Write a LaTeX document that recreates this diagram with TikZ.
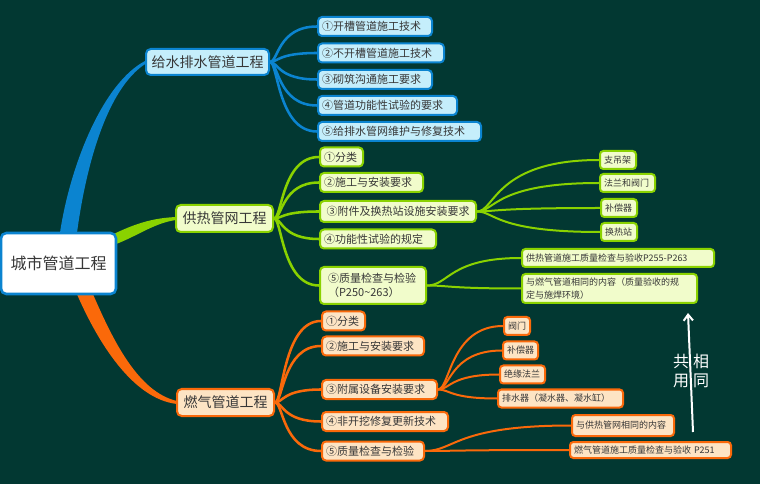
\documentclass[tikz,border=0pt]{standalone}
\usepackage{fontspec}
\setmainfont{Noto Sans CJK SC}
\usepackage{xcolor}
\usepackage{tikz}
\usetikzlibrary{arrows.meta, calc}
\definecolor{bgc}{RGB}{2,56,50}
\definecolor{txt}{RGB}{55,55,55}
\definecolor{bcol}{RGB}{11,132,208}
\definecolor{bfill}{RGB}{197,238,251}
\definecolor{gcol}{RGB}{138,210,0}
\definecolor{gfill}{RGB}{241,252,203}
\definecolor{ocol}{RGB}{250,105,10}
\definecolor{ofill}{RGB}{253,228,196}
\pgfdeclarelayer{back}
\pgfdeclarelayer{wire}
\pgfsetlayers{back,wire,main}
\tikzset{
  root/.style={rectangle, draw=bcol, fill=white, line width=1.9pt, rounded corners=4pt,
               minimum width=86.25pt, minimum height=45.75pt, inner sep=0pt, text=txt,
               font=\fontsize{12}{14}\selectfont},
  hb/.style={rectangle, line width=1.5pt, rounded corners=3.5pt, inner sep=0pt,
             minimum width=72.75pt, minimum height=20.25pt, text=txt,
             font=\fontsize{10.5}{12}\selectfont},
  sb/.style={rectangle, anchor=west, line width=1.5pt, rounded corners=3pt, inner xsep=3pt,
             inner ysep=0pt, minimum height=14.25pt, align=left, text=txt,
             font=\fontsize{8.25}{10.5}\selectfont},
  tb/.style={sb, minimum height=13.5pt, rounded corners=2.5pt,
             font=\fontsize{6.75}{9.5}\selectfont},
  bbox/.style={draw=bcol, fill=bfill},
  gbox/.style={draw=gcol, fill=gfill},
  obox/.style={draw=ocol, fill=ofill},
  limb/.style={to path={.. controls ($(\tikztostart)+(#1,0)$)
               and ($(\tikztotarget -| \tikztostart)+(#1,0)$) .. (\tikztotarget)}},
  bwire/.style={draw=bcol, line width=1.9pt},
  gwire/.style={draw=gcol, line width=1.9pt},
  owire/.style={draw=ocol, line width=1.9pt},
  note/.style={text=white, align=center, inner sep=0pt, font=\fontsize{12}{14.25}\selectfont}
}

\begin{document}
\begin{tikzpicture}[x=0.75pt, y=-0.75pt]
  \useasboundingbox (0,0) rectangle (760,484);
  \begin{pgfonlayer}{back}
    \fill[bgc] (0,0) rectangle (760,484);
  \end{pgfonlayer}

  \node[root] (city) at (58.5,263.5) {城市管道工程};
  \node[hb, bbox, minimum width=92.25pt, minimum height=19.5pt] (gs) at (207.5,62) {给水排水管道工程};
  \node[hb, gbox] (gr) at (224.5,218.5) {供热管网工程};
  \node[hb, obox] (rq) at (225.5,402.5) {燃气管道工程};

  % 给水排水
  \node[sb, bbox, text width=79.5pt] (gs1) at (317,26.5) {①开槽管道施工技术};
  \node[sb, bbox, text width=88.5pt] (gs2) at (317,53) {②不开槽管道施工技术};
  \node[sb, bbox, text width=79.5pt] (gs3) at (317,79.5) {③砌筑沟通施工要求};
  \node[sb, bbox, text width=98.25pt] (gs4) at (317,105.5) {④管道功能性试验的要求};
  \node[sb, bbox, text width=116.25pt] (gs5) at (317,131.5) {⑤给排水管网维护与修复技术};

  % 供热
  \node[sb, gbox, text width=26.25pt] (gr1) at (319,157) {①分类};
  \node[sb, gbox, text width=71.25pt] (gr2) at (319,182.5) {②施工与安装要求};
  \node[sb, gbox, text width=111pt, align=center, minimum height=15.75pt] (gr3) at (319,211.5) {③附件及换热站设施安装要求};
  \node[sb, gbox, text width=81pt] (gr4) at (319,239) {④功能性试验的规定};
  \node[sb, gbox, text width=67.5pt, inner xsep=6pt, minimum height=27.75pt] (gr5) at (319,285.5)
    {⑤质量检查与检验\\（P250\textasciitilde263）};
  \node[tb, gbox, text width=21pt] (gr31) at (599,160) {支吊架};
  \node[tb, gbox, text width=35.25pt] (gr32) at (599,183) {法兰和阀门};
  \node[tb, gbox, text width=21pt] (gr33) at (600,208) {补偿器};
  \node[tb, gbox, text width=21pt] (gr34) at (600,232) {换热站};
  \node[tb, gbox, text width=138pt] (gr51) at (521,258) {供热管道施工质量检查与验收P255-P263};
  \node[tb, gbox, text width=125.25pt, minimum height=21.75pt] (gr52) at (521,288.5)
    {与燃气管道相同的内容（质量验收的规\\定与施焊环境）};

  % 燃气
  \node[sb, obox, text width=26.25pt] (rq1) at (321,321) {①分类};
  \node[sb, obox, text width=70.5pt] (rq2) at (321,346) {②施工与安装要求};
  \node[sb, obox, text width=80.25pt] (rq3) at (321,389.5) {③附属设备安装要求};
  \node[sb, obox, text width=88.5pt] (rq4) at (321,421.5) {④非开挖修复更新技术};
  \node[sb, obox, text width=70.5pt] (rq5) at (321,451) {⑤质量检查与检验};
  \node[tb, obox, text width=13.5pt] (rq31) at (503,326) {阀门};
  \node[tb, obox, text width=20.25pt] (rq32) at (502,350.5) {补偿器};
  \node[tb, obox, text width=27.75pt] (rq33) at (499,374.5) {绝缘法兰};
  \node[tb, obox, text width=87.75pt] (rq34) at (497,398.5) {排水器（凝水器、凝水缸）};
  \node[tb, obox, text width=70.5pt, minimum height=15.75pt] (rq51) at (571,425.5) {与供热管网相同的内容};
  \node[tb, obox, text width=114.75pt, minimum height=12pt] (rq52) at (569,450) {燃气管道施工质量检查与验收 P251};

  % 相同 / 共用
  \coordinate (arr-s) at (693,432);
  \coordinate (arr-e) at (688,313);
  \draw[white, line width=1.5pt, -{Straight Barb[length=4.5pt,width=7pt]}] (arr-s) -- (arr-e);
  \node[note] (gy) at (681,371) {共\\用};
  \node[note] (xt) at (701,371) {相\\同};

  \begin{pgfonlayer}{wire}
    % tapered main branches
    \fill[bcol] ($(city.north)+(1.5,1)$) .. controls +(10,-67) and +(-43,21.5) .. ($(gs.west)+(1,-1.5)$)
      -- ++(0,3) .. controls +(-39,24.5) and +(9,-67) .. ($(city.north)+(18.5,1)$) -- cycle;
    \fill[gcol] ($(city.north east)+(-3,2)$) .. controls +(25,-12) and +(-20,1) .. ($(gr.west)+(1,-1.5)$)
      -- ++(0,3) .. controls +(-22,3) and +(22,-8) .. ($(city.north east)+(-3,13)$) -- cycle;
    \fill[ocol] ($(city.south)+(18.5,-1)$) .. controls +(20,46) and +(-45,-5) .. ($(rq.west)+(1,1.5)$)
      -- ++(0,-3) .. controls +(-39,-9) and +(20,46) .. ($(city.south)+(34.5,-1)$) -- cycle;

    \foreach \i in {1,...,5} {
      \draw[bwire] (gs.east) to[limb=8] (gs\i.west);
      \draw[gwire] (gr.east) to[limb=8] (gr\i.west);
      \draw[owire] (rq.east) to[limb=8] (rq\i.west);
    }
    \foreach \i in {1,...,4} {
      \draw[gwire, line width=1.5pt] (gr3.east) to[limb=18] (gr3\i.west);
      \draw[owire, line width=1.5pt] (rq3.east) to[limb=12] (rq3\i.west);
    }
    \foreach \i in {1,2} {
      \draw[gwire, line width=1.5pt] (gr5.east) to[limb=22] (gr5\i.west);
      \draw[owire, line width=1.5pt] (rq5.east) to[limb=30] (rq5\i.west);
    }
  \end{pgfonlayer}
\end{tikzpicture}
\end{document}
